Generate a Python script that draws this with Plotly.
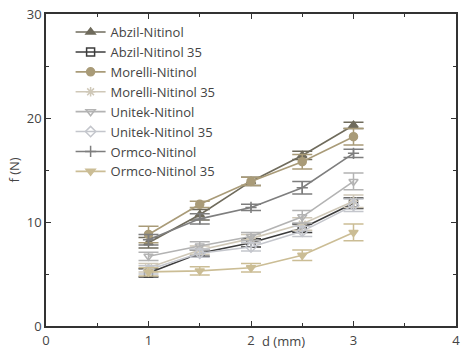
import plotly.graph_objects as go

d = [1, 1.5, 2, 2.5, 3]

names = ["Abzil-Nitinol", "Abzil-Nitinol 35", "Morelli-Nitinol", "Morelli-Nitinol 35",
         "Unitek-Nitinol", "Unitek-Nitinol 35", "Ormco-Nitinol", "Ormco-Nitinol 35"]

abzil = [8.0, 10.7, 13.9, 16.4, 19.3]
abzil35 = [5.1, 7.0, 8.0, 9.4, 11.8]
morelli = [8.8, 11.7, 13.9, 15.8, 18.2]
morelli35 = [5.6, 7.3, 8.4, 9.8, 12.0]
unitek = [6.7, 7.7, 8.6, 10.5, 13.9]
unitek35 = [5.4, 7.0, 7.6, 9.1, 11.6]
ormco = [8.3, 10.3, 11.4, 13.3, 16.6]
ormco35 = [5.2, 5.3, 5.6, 6.8, 9.0]

abzil_err = [0.5, 0.5, 0.4, 0.4, 0.3]
abzil35_err = [0.4, 0.3, 0.4, 0.4, 0.5]
morelli_err = [0.8, 0.3, 0.4, 0.7, 0.8]
morelli35_err = [0.4, 0.4, 0.4, 0.6, 0.6]
unitek_err = [0.4, 0.4, 0.4, 0.6, 0.8]
unitek35_err = [0.4, 0.4, 0.4, 0.5, 0.6]
ormco_err = [0.5, 0.5, 0.3, 0.6, 0.4]
ormco35_err = [0.4, 0.4, 0.4, 0.5, 0.8]

series = [abzil, abzil35, morelli, morelli35, unitek, unitek35, ormco, ormco35]
errs = [abzil_err, abzil35_err, morelli_err, morelli35_err, unitek_err, unitek35_err, ormco_err, ormco35_err]
colors = ["#6f6b5c", "#3c3c3c", "#a99b78", "#cfc8b8", "#b3b3b3", "#c4c6cc", "#7e7e7e", "#cbbd95"]
symbols = ["triangle-up", "square-open", "circle", "asterisk-open", "triangle-down-open",
           "diamond-open", "cross-thin-open", "triangle-down"]

fig = go.Figure()
for n, y, e, c, s in zip(names, series, errs, colors, symbols):
    fig.add_trace(go.Scatter(
        x=d, y=y, name=n, mode="lines+markers",
        line=dict(color=c, width=1.6),
        marker=dict(symbol=s, size=8, color=c, line=dict(color=c, width=1.5)),
        error_y=dict(type="data", array=e, color=c, thickness=1.5, width=10),
    ))

fig.update_layout(
    width=474, height=353,
    margin=dict(l=46, r=18, t=14, b=27),
    paper_bgcolor="white", plot_bgcolor="white",
    font=dict(family="Open Sans", size=13, color="#444"),
    showlegend=True,
    legend=dict(x=0.06, y=0.99, xanchor="left", yanchor="top",
                bgcolor="rgba(0,0,0,0)", font=dict(size=13, color="#444"),
                tracegroupgap=0, itemwidth=30),
    xaxis=dict(range=[0, 4], tickvals=[0, 1, 2, 3, 4], showgrid=False, zeroline=False,
               showline=True, mirror="allticks", linecolor="#333", linewidth=1.5,
               ticks="inside", ticklen=5, tickcolor="#333", ticklabelstandoff=2,
               automargin=False,
               minor=dict(tickvals=[0.5, 1.5, 2.5, 3.5], ticks="inside", ticklen=3, tickcolor="#333"),
               tickfont=dict(size=13, color="#444")),
    yaxis=dict(range=[0, 30], tickvals=[0, 10, 20, 30], showgrid=False, zeroline=False,
               showline=True, mirror="allticks", linecolor="#333", linewidth=1.5,
               ticks="inside", ticklen=5, tickcolor="#333", automargin=False,
               minor=dict(tickvals=[5, 15, 25], ticks="inside", ticklen=3, tickcolor="#333"),
               tickfont=dict(size=13, color="#444"),
               title=dict(text="f (N)", standoff=4, font=dict(size=13, color="#444"))),
    annotations=[dict(text="d (mm)", x=2.32, xref="x", y=0, yref="paper",
                      yanchor="top", yshift=-4, showarrow=False,
                      font=dict(size=13, color="#444"))],
)

fig.write_html("out.html")
